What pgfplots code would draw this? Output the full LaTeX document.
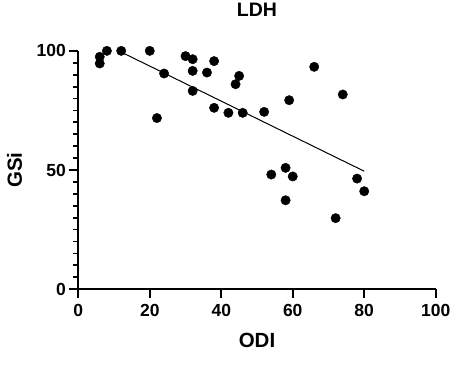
\documentclass[border=0pt]{standalone}
\usepackage{pgfplots}
\pgfplotsset{compat=1.18}
\usepackage{fontspec}
\setmainfont{Liberation Sans}
\pgfplotstableread{
x y
6 97.5
6 94.7
8 100
12 100
20 100
22 71.8
24 90.5
30 97.8
32 96.5
32 91.6
32 83.2
36 90.9
38 95.7
38 76.1
42 74.0
44 86.0
45 89.5
46 74.0
52 74.4
54 48.1
58 50.9
58 37.3
59 79.3
60 47.3
66 93.3
72 29.8
74 81.7
78 46.4
80 41.1
}\ldh
\begin{document}
\begin{tikzpicture}
\begin{axis}[
  name=ax, scale only axis, width=357.4pt, height=238.3pt,
  xmin=0, xmax=100, ymin=0, ymax=100,
  clip=false,
  axis x line*=bottom, axis y line*=left,
  axis line style={line width=2pt, black},
  xtick={0,20,...,100}, ytick={0,50,100}, minor y tick num=9,
  tick style={line width=1.8pt, black},
  major tick length=9pt, minor tick length=5pt,
  tick align=outside,
  /pgf/number format/assume math mode=true,
  ticklabel style={font=\fontsize{17.5}{17.5}\selectfont\bfseries},
  xticklabel style={yshift=-2.5pt},
  title={LDH},
  title style={at={(axis description cs:0.5,1.118)}, anchor=base, font=\fontsize{19.5}{19.5}\selectfont\bfseries},
  xlabel={ODI},
  xlabel style={at={(axis description cs:0.5,-0.245)}, anchor=base, font=\fontsize{20.5}{20.5}\selectfont\bfseries},
  ylabel={GSi},
  ylabel style={at={(axis description cs:-0.158,0.5)}, anchor=base, rotate=0, font=\fontsize{20.5}{20.5}\selectfont\bfseries},
]
\addplot[only marks, mark=*, mark size=4.7pt, black] table[x=x, y=y] {\ldh};
\addplot[black, line width=1pt] coordinates {(11.3,100) (80,49.5)};
\end{axis}
\path[use as bounding box] ([xshift=-78.3pt,yshift=-84.7pt]ax.south west) rectangle ([xshift=38.3pt,yshift=49pt]ax.north east);
\end{tikzpicture}
\end{document}
